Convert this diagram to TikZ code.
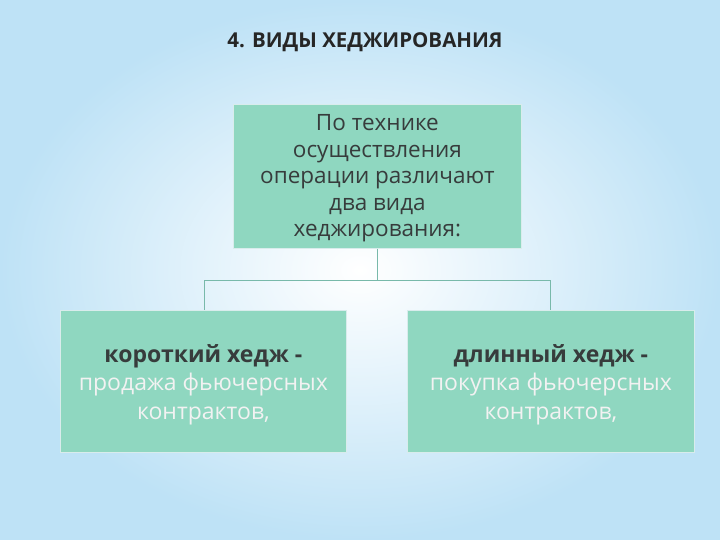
\documentclass[tikz,border=0pt]{standalone}
\usepackage{fontspec}
\setmainfont{Open Sans}
\begin{document}
\begin{tikzpicture}[x=1pt,y=-1pt,
  box/.style={draw=white!85!teal,line width=0.8pt,fill=boxc,inner sep=4pt,align=center,anchor=north west},
  conn/.style={draw=linec,line width=0.7pt},
  bt/.style={align=center,font=\fontsize{23}{28.5}\selectfont}]
\definecolor{boxc}{RGB}{143,215,192}
\definecolor{linec}{RGB}{120,185,170}
\definecolor{bgout}{RGB}{190,226,246}
\definecolor{txt}{RGB}{55,60,60}
\useasboundingbox (0,0) rectangle (720,540);
\shade[inner color=white,outer color=bgout] (0,0) rectangle (720,540);
\node[font=\fontsize{20.5}{24}\selectfont\bfseries,text=black!85] (title) at (365,42) {4. ВИДЫ ХЕДЖИРОВАНИЯ};
\node[box,minimum width=288pt,minimum height=144pt] (top) at (233,104) {};
\node[bt,text=txt,font=\fontsize{22.5}{26.5}\selectfont] (toptext) at ([yshift=-2pt]top.center) {По технике\\осуществления\\операции различают\\два вида\\хеджирования:};
\node[box,minimum width=286pt,minimum height=142pt] (left) at (60,310) {};
\node[box,minimum width=287pt,minimum height=142pt] (right) at (407,310) {};
\node[bt,text=white!95!black] (lt) at ([yshift=-3pt]left.center) {{\bfseries\color{txt}короткий хедж -}\\продажа фьючерсных\\контрактов,};
\node[bt,text=white!95!black] (rt) at ([yshift=-3pt]right.center) {{\bfseries\color{txt}длинный хедж -}\\покупка фьючерсных\\контрактов,};
\coordinate (j) at (377,280);
\coordinate (jl) at (204,280);
\coordinate (jr) at (550,280);
\draw[conn] (top.south -| j) -- (j);
\draw[conn] (jl) -- (jr);
\draw[conn] (jl) -- (jl |- left.north);
\draw[conn] (jr) -- (jr |- right.north);
\end{tikzpicture}
\end{document}
